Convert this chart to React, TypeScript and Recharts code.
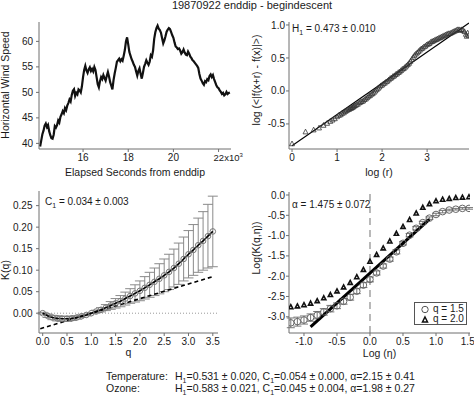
import React from "react";
import {
  ComposedChart,
  ErrorBar,
  Line,
  ReferenceLine,
  Scatter,
  XAxis,
  YAxis,
} from "recharts";

const FONT = '"Liberation Sans", Arial, Helvetica, sans-serif';
const INK = "#1a1a1a";
const FRAME = "#6f6f6f";

// top-left: wind speed, one reading every 0.05 (x10^3 s) from 14.10
const windStart = 14.1;
const windStep = 0.05;
const windSpeed = [
  39.4, 40.6, 41.8, 42.5, 43.5, 43.9, 43.2, 43.6, 42.4, 41.6,
  41.0, 40.9, 41.7, 43.4, 43.1, 43.6, 44.5, 44.1, 45.2, 45.7,
  46.3, 45.9, 46.9, 46.5, 47.4, 47.9, 48.6, 48.2, 49.5, 50.3,
  50.6, 49.3, 49.9, 49.6, 50.6, 50.4, 50.0, 51.2, 53.0, 54.4,
  55.2, 54.3, 53.8, 54.5, 54.9, 54.2, 54.6, 54.1, 55.0, 54.4,
  53.0, 51.6, 51.0, 52.2, 53.0, 52.6, 53.4, 52.8, 52.3, 53.2,
  54.0, 53.1, 52.0, 51.3, 50.6, 52.4, 53.7, 54.8, 56.0, 56.3,
  56.6, 56.1, 56.5, 56.2, 57.2, 58.3, 60.0, 60.8, 59.4, 57.9,
  57.2, 56.5, 56.0, 55.4, 55.0, 54.1, 53.3, 54.2, 54.7, 53.6,
  52.7, 53.8, 55.0, 55.6, 56.3, 55.8, 55.4, 56.0, 57.3, 57.0,
  58.2, 60.5, 61.8, 62.6, 63.1, 62.5, 62.2, 61.7, 60.6, 59.6,
  60.2, 61.0, 61.9, 62.3, 62.6, 62.4, 61.8, 61.2, 60.7, 59.8,
  59.0, 58.8, 58.5, 58.6, 58.2, 57.6, 57.9, 58.4, 57.8, 57.4,
  57.3, 58.0, 57.6, 57.0, 56.7, 56.3, 56.1, 55.8, 55.5, 55.2,
  54.8, 53.6, 52.7, 52.3, 51.8, 51.5, 52.2, 52.0, 52.6, 52.4,
  53.2, 53.5, 53.0, 53.4, 52.6, 52.0, 51.4, 51.0, 50.8, 50.4,
  50.1, 49.7, 49.9, 49.4, 49.6, 50.1, 49.7, 49.9, 50.0,
];
const windTicksX = [16, 18, 20, 22];
const windTicksY = [40, 45, 50, 55, 60];

// top-right: structure function vs lag
const logR = [
  0.0, 0.3, 0.48, 0.6, 0.7, 0.78, 0.85, 0.9, 0.95, 1.0,
  1.04, 1.08, 1.11, 1.15, 1.18, 1.2, 1.23, 1.26, 1.28, 1.3,
  1.32, 1.34, 1.36, 1.38, 1.4, 1.43, 1.46, 1.49, 1.52, 1.55,
  1.58, 1.61, 1.64, 1.67, 1.7, 1.73, 1.76, 1.79, 1.82, 1.85,
  1.88, 1.91, 1.94, 1.97, 2.0, 2.03, 2.06, 2.09, 2.12, 2.15,
  2.18, 2.21, 2.24, 2.27, 2.3, 2.33, 2.36, 2.39, 2.42, 2.45,
  2.48, 2.51, 2.54, 2.57, 2.6, 2.63, 2.66, 2.69, 2.72, 2.75,
  2.78, 2.81, 2.84, 2.87, 2.9, 2.93, 2.96, 2.99, 3.02, 3.05,
  3.08, 3.11, 3.14, 3.17, 3.2, 3.23, 3.26, 3.29, 3.32, 3.35,
  3.38, 3.41, 3.44, 3.47, 3.5, 3.53, 3.56, 3.59, 3.62, 3.65,
  3.68, 3.71, 3.74, 3.77, 3.8, 3.83, 3.86, 3.88, 3.9, 3.92,
];
const logDiff = [
  -0.8, -0.62, -0.59, -0.56, -0.52, -0.49, -0.46, -0.44, -0.42, -0.39,
  -0.37, -0.36, -0.34, -0.33, -0.31, -0.3, -0.29, -0.28, -0.27, -0.26,
  -0.26, -0.25, -0.24, -0.23, -0.22, -0.21, -0.2, -0.18, -0.17, -0.16,
  -0.15, -0.13, -0.12, -0.1, -0.08, -0.07, -0.05, -0.04, -0.02, 0.0,
  0.02, 0.04, 0.06, 0.08, 0.09, 0.11, 0.12, 0.14, 0.15, 0.17,
  0.19, 0.2, 0.22, 0.23, 0.25, 0.26, 0.28, 0.29, 0.31, 0.33,
  0.34, 0.36, 0.38, 0.4, 0.42, 0.45, 0.48, 0.51, 0.54, 0.56,
  0.58, 0.6, 0.62, 0.64, 0.65, 0.67, 0.68, 0.7, 0.71, 0.72,
  0.74, 0.75, 0.76, 0.77, 0.78, 0.79, 0.8, 0.81, 0.82, 0.83,
  0.84, 0.85, 0.86, 0.87, 0.87, 0.88, 0.89, 0.9, 0.91, 0.92,
  0.93, 0.93, 0.92, 0.93, 0.92, 0.9, 0.86, 0.83, 0.88, 0.84,
];
const hFitR = [0, 3.93];
const hFitY = [-0.83, 1.03];

// bottom-left: moment scaling function K(q)
const qValues = [
  0.0, 0.1, 0.2, 0.3, 0.4, 0.5, 0.6, 0.7, 0.8, 0.9, 1.0, 1.1,
  1.2, 1.3, 1.4, 1.5, 1.6, 1.7, 1.8, 1.9, 2.0, 2.1, 2.2, 2.3,
  2.4, 2.5, 2.6, 2.7, 2.8, 2.9, 3.0, 3.1, 3.2, 3.3, 3.4, 3.5,
];
const kq = [
  0.0, -0.006, -0.01, -0.012, -0.013, -0.013, -0.012, -0.01, -0.007, -0.004, 0.0, 0.004,
  0.008, 0.013, 0.018, 0.023, 0.028, 0.034, 0.04, 0.046, 0.052, 0.059, 0.066, 0.073,
  0.08, 0.088, 0.096, 0.105, 0.115, 0.126, 0.137, 0.147, 0.158, 0.168, 0.179, 0.19,
];
const kqErr = [
  0.002, 0.004, 0.005, 0.006, 0.006, 0.006, 0.005, 0.004, 0.003, 0.002, 0.001, 0.003,
  0.005, 0.007, 0.009, 0.011, 0.013, 0.015, 0.017, 0.02, 0.023, 0.026, 0.029, 0.032,
  0.035, 0.038, 0.041, 0.044, 0.048, 0.051, 0.055, 0.059, 0.063, 0.068, 0.074, 0.082,
];
const c1LineQ = [-0.05, 3.5];
const c1LineK = [-0.036, 0.085];

// bottom-right: Log K(q, eta)
const logEta = [
  -1.2, -1.1, -1.0, -0.9, -0.8, -0.7, -0.6, -0.5, -0.4, -0.3, -0.2, -0.1, 0.0, 0.1,
  0.2, 0.3, 0.4, 0.5, 0.6, 0.7, 0.8, 0.9, 1.0, 1.1, 1.2, 1.3, 1.4, 1.5,
];
const logK15 = [
  -3.15, -3.12, -3.08, -3.02, -2.96, -2.88, -2.8, -2.73, -2.62, -2.52, -2.37, -2.22, -2.08, -1.92,
  -1.75, -1.58, -1.4, -1.19, -0.99, -0.82, -0.68, -0.57, -0.48, -0.41, -0.37, -0.35, -0.33, -0.33,
];
const logK15Err = [
  0.12, 0.11, 0.1, 0.09, 0.09, 0.08, 0.08, 0.07, 0.07, 0.07, 0.06, 0.06, 0.06, 0.05,
  0.05, 0.05, 0.05, 0.04, 0.04, 0.04, 0.03, 0.03, 0.03, 0.03, 0.02, 0.02, 0.02, 0.02,
];
const logK20 = [
  -2.76, -2.74, -2.71, -2.67, -2.61, -2.54, -2.46, -2.37, -2.27, -2.16, -2.02, -1.84, -1.64, -1.47,
  -1.31, -1.14, -0.95, -0.78, -0.61, -0.45, -0.31, -0.22, -0.15, -0.11, -0.09, -0.07, -0.06, -0.05,
];
const alphaFitX = [-0.9, 0.9];
const alphaFitY = [-3.25, -0.6];

const pts = (xs: number[], ys: number[], es?: number[]) =>
  xs.map((x, i) => ({ x, y: ys[i], e: es ? es[i] : 0 }));

const windData = windSpeed.map((y, i) => ({ x: +(windStart + i * windStep).toFixed(2), y }));

const tickStyle = { fontSize: 10, fill: INK, fontFamily: FONT };
const titleStyle = { fontSize: 10.5, fill: INK, fontFamily: FONT };

// rotated y title at a fixed spot inside the chart's svg
const yTitle = (text: string, cx: number, cy: number) => ({
  value: text,
  content: () => (
    <text x={cx} y={cy} transform={`rotate(-90 ${cx} ${cy})`} textAnchor="middle"
      dominantBaseline="central" fontSize={10.5} fontFamily={FONT} fill={INK}>
      {text}
    </text>
  ),
});

// mirrored axes closing the frame on top and right
const frame = (xd: number[], xt: number[], yd: number[], yt: number[]) => [
  <XAxis key="top" xAxisId="top" orientation="top" type="number" domain={xd} ticks={xt}
    tick={false} tickSize={3} height={0} stroke={FRAME} allowDataOverflow />,
  <YAxis key="right" yAxisId="right" orientation="right" type="number" domain={yd} ticks={yt}
    tick={false} tickSize={3} width={0} stroke={FRAME} allowDataOverflow />,
];

const triangle = (s: number, color: string, sw: number) => (p: any) => (
  <path
    d={`M${p.cx},${p.cy - s * 0.6}L${p.cx + s * 0.55},${p.cy + s * 0.45}L${p.cx - s * 0.55},${p.cy + s * 0.45}Z`}
    fill="none" stroke={color} strokeWidth={sw}
  />
);
const ring = (r: number, color: string, sw: number) => (p: any) => (
  <circle cx={p.cx} cy={p.cy} r={r} fill="none" stroke={color} strokeWidth={sw} />
);

function WindTick({ x, y, payload }: any) {
  if (payload.value === 22) {
    return (
      <text x={x - 5} y={y} dy={7.1} fontSize={9.5} fontFamily={FONT} fill={INK}>
        22x10<tspan dy={-4} fontSize={6}>3</tspan>
      </text>
    );
  }
  return (
    <text x={x} y={y} dy={7.1} textAnchor="middle" fontSize={10} fontFamily={FONT} fill={INK}>
      {payload.value}
    </text>
  );
}

function Note({ x, y, size = 10, children }: any) {
  return (
    <div style={{
      position: "absolute", left: x, top: y - size / 2 - 1, fontSize: size, whiteSpace: "nowrap",
      lineHeight: `${size + 2}px`, zIndex: 5,
    }}>
      {children}
    </div>
  );
}

const sub = (t: string) => <sub style={{ fontSize: 7, lineHeight: 0 }}>{t}</sub>;

export default function App() {
  const xd1 = [14.05, 22.55];
  const yd1 = [38.9, 63.8];
  const xd2 = [-0.067, 3.93];
  const yd2 = [-0.88, 1.045];
  const xd3 = [-0.076, 3.607];
  const yd3 = [-0.046, 0.284];
  const xd4 = [-1.227, 1.515];
  const yd4 = [-3.4, 0.074];
  const xt2 = [0, 1, 2, 3];
  const yt2 = [-0.5, 0, 0.5, 1];
  const xt3 = [0, 0.5, 1, 1.5, 2, 2.5, 3, 3.5];
  const yt3 = [0, 0.05, 0.1, 0.15, 0.2, 0.25];
  const xt4 = [-1, -0.5, 0, 0.5, 1, 1.5];
  const yt4 = [-3, -2.5, -2, -1.5, -1, -0.5, 0];

  return (
    <div style={{
      position: "relative", width: 474, height: 396,
      background: "#fff", fontFamily: FONT, color: INK, overflow: "hidden",
    }}>
      <style>{"body{margin:0}.recharts-surface{overflow:visible}"}</style>

      {/* top-left */}
      <div style={{ position: "absolute", left: 0, top: 0 }}>
        <ComposedChart width={237} height={190} margin={{ top: 22, right: 6, bottom: 0, left: 0 }}>
          <XAxis dataKey="x" type="number" domain={xd1} ticks={windTicksX} allowDataOverflow
            height={41} tickSize={3} tickMargin={1.5} stroke={FRAME} tick={<WindTick />}
            label={{ value: "Elapsed Seconds from enddip", position: "insideBottom", offset: 14, style: titleStyle }} />
          <YAxis type="number" domain={yd1} ticks={windTicksY} allowDataOverflow width={39}
            tickSize={3} tickMargin={3} stroke={FRAME} tick={tickStyle}
            label={yTitle("Horizontal Wind Speed", 5, 85)} />
          {frame(xd1, windTicksX, yd1, windTicksY)}
          <Line data={windData} dataKey="y" stroke="#111" strokeWidth={2.2} dot={false}
            isAnimationActive={false} />
        </ComposedChart>
      </div>

      {/* top-right */}
      <div style={{ position: "absolute", left: 237, top: 0 }}>
        <ComposedChart width={237} height={190} margin={{ top: 22, right: 5, bottom: 0, left: 0 }}>
          <XAxis dataKey="x" type="number" domain={xd2} ticks={xt2} allowDataOverflow
            height={41} tickSize={3} tickMargin={1.5} stroke={FRAME} tick={tickStyle}
            label={{ value: "log (r)", position: "insideBottom", offset: 14, style: titleStyle }} />
          <YAxis type="number" domain={yd2} ticks={yt2} allowDataOverflow width={52}
            tickSize={3} tickMargin={1} stroke={FRAME} tick={tickStyle}
            tickFormatter={(v: number) => v.toFixed(1)}
            label={yTitle("log (<|f(x+r) - f(x)|>)", 19, 80)} />
          {frame(xd2, xt2, yd2, yt2)}
          <Scatter data={pts(logR, logDiff)} dataKey="y" shape={triangle(4.5, "#333", 0.8)}
            isAnimationActive={false} />
          <Line data={pts(hFitR, hFitY)} dataKey="y" stroke="#000" strokeWidth={1.1} dot={false}
            isAnimationActive={false} />
        </ComposedChart>
      </div>

      {/* bottom-left */}
      <div style={{ position: "absolute", left: 0, top: 190 }}>
        <ComposedChart width={237} height={175} margin={{ top: 1, right: 19, bottom: 0, left: 0 }}>
          <XAxis dataKey="x" type="number" domain={xd3} ticks={xt3} allowDataOverflow
            height={32} tickSize={3} tickMargin={2} stroke={FRAME} tick={tickStyle}
            tickFormatter={(v: number) => v.toFixed(1)}
            label={{ value: "q", position: "insideBottom", offset: 9, style: titleStyle }} />
          <YAxis type="number" domain={yd3} ticks={yt3} allowDataOverflow width={39}
            tickSize={3} tickMargin={3.5} stroke={FRAME} tick={tickStyle}
            tickFormatter={(v: number) => v.toFixed(2)}
            label={yTitle("K(q)", 5, 80)} />
          {frame(xd3, xt3, yd3, yt3)}
          <ReferenceLine y={0} stroke="#9a9a9a" strokeDasharray="1 2" />
          <Scatter data={pts(qValues, kq, kqErr)} dataKey="y" shape={ring(2.8, "#777", 1)}
            isAnimationActive={false}>
            <ErrorBar dataKey="e" direction="y" width={5} stroke="#8a8a8a" strokeWidth={1} />
          </Scatter>
          <Line data={pts(c1LineQ, c1LineK)} dataKey="y" stroke="#000" strokeWidth={1.6}
            strokeDasharray="4 3" dot={false} isAnimationActive={false} />
          <Line data={pts(qValues, kq)} dataKey="y" stroke="#000" strokeWidth={1.6} dot={false}
            isAnimationActive={false} />
        </ComposedChart>
      </div>

      {/* bottom-right */}
      <div style={{ position: "absolute", left: 237, top: 190 }}>
        <ComposedChart width={237} height={175} margin={{ top: 2, right: 4, bottom: 0, left: 0 }}>
          <XAxis dataKey="x" type="number" domain={xd4} ticks={xt4} allowDataOverflow
            height={32} tickSize={3} tickMargin={2} stroke={FRAME} tick={tickStyle}
            tickFormatter={(v: number) => v.toFixed(1)}
            label={{ value: "Log (η)", position: "insideBottom", offset: 8, style: titleStyle }} />
          <YAxis type="number" domain={yd4} ticks={yt4} allowDataOverflow width={52}
            tickSize={3} tickMargin={1} stroke={FRAME} tick={tickStyle}
            tickFormatter={(v: number) => v.toFixed(1)}
            label={yTitle("Log(K(q,η))", 19, 58)} />
          {frame(xd4, xt4, yd4, yt4)}
          <ReferenceLine x={0} stroke="#8a8a8a" strokeWidth={1.2} strokeDasharray="7 5" />
          <Scatter data={pts(logEta, logK15, logK15Err)} dataKey="y" shape={ring(3.3, "#666", 1)}
            isAnimationActive={false}>
            <ErrorBar dataKey="e" direction="y" width={4} stroke="#777" strokeWidth={1} />
          </Scatter>
          <Scatter data={pts(logEta, logK20)} dataKey="y" shape={triangle(3.8, "#111", 1.6)}
            isAnimationActive={false} />
          <Line data={pts(alphaFitX, alphaFitY)} dataKey="y" stroke="#000" strokeWidth={3}
            dot={false} isAnimationActive={false} />
        </ComposedChart>
      </div>

      <div style={{
        position: "absolute", left: 0, top: 0, width: 504, textAlign: "center", fontSize: 11,
        lineHeight: "11px", zIndex: 5,
      }}>
        19870922 enddip - begindescent
      </div>
      <Note x={292} y={29}>H{sub("1")} = 0.473 ± 0.010</Note>
      <Note x={45} y={202}>C{sub("1")} = 0.034 ± 0.003</Note>
      <Note x={292} y={205}>α = 1.475 ± 0.072</Note>

      <div style={{
        position: "absolute", left: 414, top: 302, width: 53, height: 23, boxSizing: "border-box",
        border: "1px solid #555", background: "#fff", fontSize: 10, lineHeight: "10px",
        padding: "1px 0 0 6px", zIndex: 5,
      }}>
        <div style={{ display: "flex", alignItems: "center", gap: 4 }}>
          <svg width={8} height={9}><circle cx={4} cy={4.5} r={3.2} fill="none" stroke="#555" /></svg>
          q = 1.5
        </div>
        <div style={{ display: "flex", alignItems: "center", gap: 4 }}>
          <svg width={8} height={9}><path d="M4,2L6.5,7L1.5,7Z" fill="none" stroke="#111" strokeWidth={1.5} /></svg>
          q = 2.0
        </div>
      </div>

      <div style={{ position: "absolute", left: 106, top: 371, fontSize: 10.5, lineHeight: "11.6px", zIndex: 5 }}>
        <div style={{ display: "flex" }}>
          <span style={{ width: 69 }}>Temperature:</span>
          <span>H{sub("1")}=0.531 ± 0.020, C{sub("1")}=0.054 ± 0.000, α=2.15 ± 0.41</span>
        </div>
        <div style={{ display: "flex" }}>
          <span style={{ width: 69 }}>Ozone:</span>
          <span>H{sub("1")}=0.583 ± 0.021, C{sub("1")}=0.045 ± 0.004, α=1.98 ± 0.27</span>
        </div>
      </div>
    </div>
  );
}
